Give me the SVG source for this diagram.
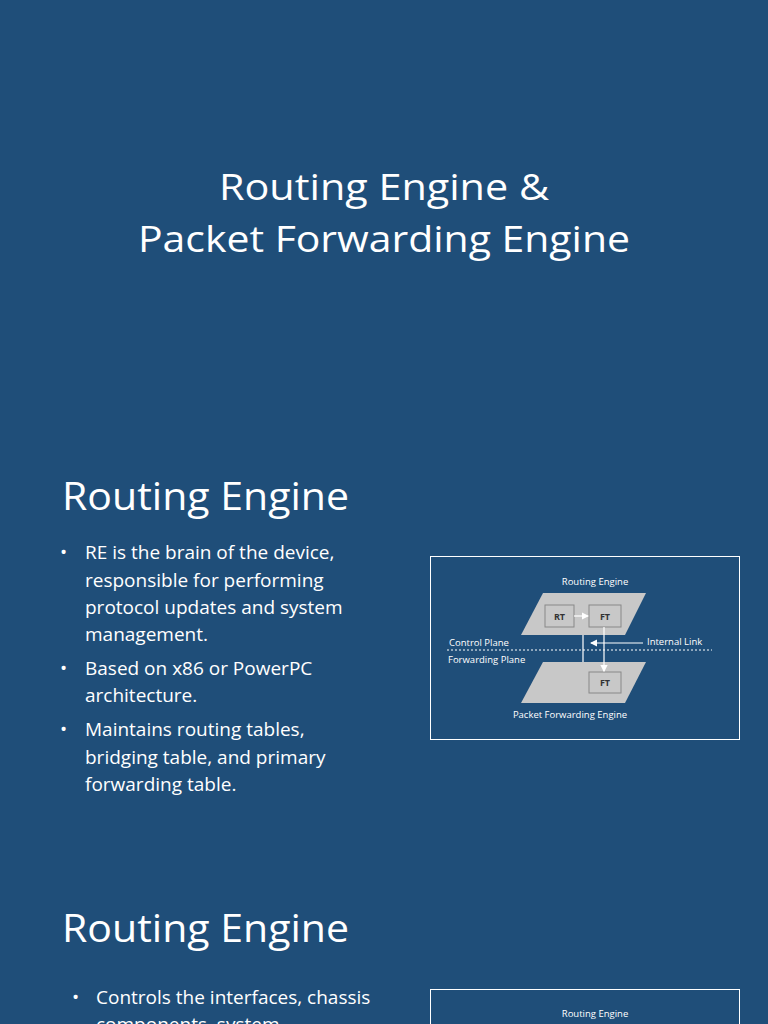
<svg xmlns="http://www.w3.org/2000/svg" width="768" height="1024" viewBox="0 0 768 1024">
<style>
text{font-family:"Open Sans","Liberation Sans",sans-serif;fill:#fff}
.t{font-size:36px}
.h{font-size:38px}
.b{font-size:19px}
.s{font-size:9.5px}
.bx{fill:#c8c8c8;stroke:#888;stroke-width:1}
.pl{fill:#c8c8c8}
.ln{stroke:#fff;stroke-width:1.2;fill:none}
</style>
<defs><marker id="a" markerWidth="6" markerHeight="6" refX="5" refY="3" orient="auto"><path d="M0,0L6,3L0,6z" fill="#fff"/></marker></defs>
<rect width="768" height="1024" fill="#1f4e79"/>
<text class="t" x="384" y="200" text-anchor="middle" textLength="330" lengthAdjust="spacingAndGlyphs">Routing Engine &amp;</text>
<text class="t" x="384" y="252" text-anchor="middle" textLength="492" lengthAdjust="spacingAndGlyphs">Packet Forwarding Engine</text>
<text class="h" x="62" y="510" textLength="287" lengthAdjust="spacingAndGlyphs">Routing Engine</text>
<g class="b">
<text x="60" y="559">•</text><text x="85" y="559">RE is the brain of the device,</text>
<text x="85" y="587">responsible for performing</text>
<text x="85" y="614">protocol updates and system</text>
<text x="85" y="641">management.</text>
<text x="60" y="675">•</text><text x="85" y="675">Based on x86 or PowerPC</text>
<text x="85" y="702">architecture.</text>
<text x="60" y="736">•</text><text x="85" y="736">Maintains routing tables,</text>
<text x="85" y="764">bridging table, and primary</text>
<text x="85" y="791">forwarding table.</text>
</g>
<g id="diagram1">
<rect x="430.5" y="556.5" width="309" height="183" fill="none" stroke="#fff"/>
<text class="s" x="595" y="585" text-anchor="middle">Routing Engine</text>
<g id="re"><polygon class="pl" points="543,593 646,593 625,635 521,635"/></g>
<g id="pfe"><polygon class="pl" points="543,662 646,662 625,703 521,703"/></g>
<g id="rt"><rect class="bx" x="545" y="605" width="29" height="22"/><text x="559.5" y="620" text-anchor="middle" style="font-size:9px;font-weight:bold;fill:#333">RT</text></g>
<g id="ft1"><rect class="bx" x="589" y="605" width="32" height="22"/><text x="605" y="620" text-anchor="middle" style="font-size:9px;font-weight:bold;fill:#333">FT</text></g>
<g id="ft2"><rect class="bx" x="589" y="672" width="32" height="21"/><text x="605" y="686" text-anchor="middle" style="font-size:9px;font-weight:bold;fill:#333">FT</text></g>
<g id="connectors">
<line class="ln" x1="574" y1="616" x2="588" y2="616" marker-end="url(#a)"/>
<line class="ln" x1="604" y1="627" x2="604" y2="671" marker-end="url(#a)"/>
<line class="ln" x1="583" y1="635" x2="583" y2="662"/>
<line class="ln" x1="643" y1="643" x2="591" y2="643" marker-end="url(#a)"/>
<line x1="447" y1="650" x2="712" y2="650" stroke="#fff" stroke-dasharray="2,2" stroke-width="1"/>
</g>
<text class="s" x="449" y="646">Control Plane</text>
<text class="s" x="448" y="663">Forwarding Plane</text>
<text class="s" x="647" y="645">Internal Link</text>
<text class="s" x="570" y="718" text-anchor="middle">Packet Forwarding Engine</text>
</g>
<text class="h" x="62" y="942" textLength="287" lengthAdjust="spacingAndGlyphs">Routing Engine</text>
<g class="b"><text x="72" y="1004">•</text><text x="96" y="1004">Controls the interfaces, chassis</text>
<text x="96" y="1031">components, system</text></g>
<g id="diagram2"><rect x="430.5" y="989.5" width="309" height="60" fill="none" stroke="#fff"/>
<text class="s" x="595" y="1017" text-anchor="middle">Routing Engine</text></g>
</svg>
